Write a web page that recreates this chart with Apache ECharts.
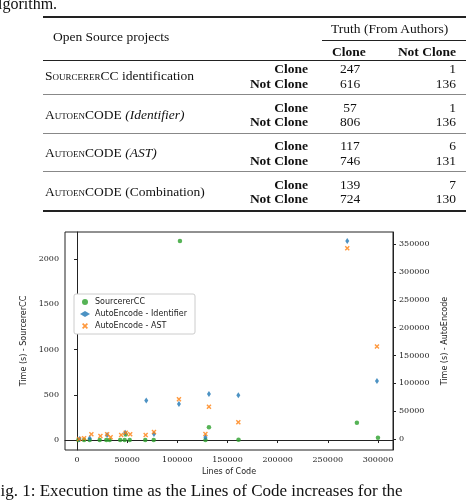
<!DOCTYPE html>
<html><head><meta charset="utf-8">
<script src="https://cdn.jsdelivr.net/npm/echarts@6/dist/echarts.min.js"></script>
<style>
body{margin:0;background:#fff;font-family:"Liberation Serif","DejaVu Serif",serif;color:#111}
#wrap{position:relative;width:474px;height:500px;overflow:hidden}
#chart{position:absolute;left:0;top:0;width:474px;height:500px}
.t{position:absolute;font-size:13.5px;white-space:nowrap;line-height:1}
.b{font-weight:bold}
.r{text-align:right}
.rule{position:absolute;background:#222}
.sc{font-variant:small-caps}
</style></head><body>
<div id="wrap">
<div id="chart"></div>
<div class="t" style="left:-2px;top:-4px;font-size:16px">lgorithm.</div>
<div class="rule" style="left:43px;width:423px;top:16px;height:1.5px"></div>
<div class="t" style="left:53px;top:30px">Open Source projects</div>
<div class="t" style="left:331px;top:22px">Truth (From Authors)</div>
<div class="rule" style="left:322px;width:144px;top:40px;height:0.8px"></div>
<div class="t b" style="left:332px;top:45px">Clone</div>
<div class="t b r" style="left:380px;width:76px;top:45px">Not Clone</div>
<div class="rule" style="left:43px;width:423px;top:60px;height:1px"></div>
<div id="rows"></div>
<div class="rule" style="left:43px;width:423px;top:210px;height:1.5px"></div>
<div class="t" style="left:-9px;top:482px;font-size:17px">Fig. 1: Execution time as the Lines of Code increases for the</div>
</div>
<script>
// table
const tableRows = ['<span class="sc">SourcererCC</span> identification','<span class="sc">AutoenCODE</span> <i>(Identifier)</i>','<span class="sc">AutoenCODE</span> <i>(AST)</i>','<span class="sc">AutoenCODE</span> (Combination)'];
const cloneCol = [[247,616],[57,806],[117,746],[139,724]];
const notCloneCol = [[1,136],[1,136],[6,131],[7,130]];
var html = '';
for (var i = 0; i < 4; i++) {
  var y = 62 + i * 38.5;
  html += '<div class="t" style="left:45px;top:' + (y + 7) + 'px">' + tableRows[i] + '</div>';
  html += '<div class="t b r" style="left:200px;width:108px;top:' + y + 'px">Clone</div>';
  html += '<div class="t b r" style="left:200px;width:108px;top:' + (y + 14.5) + 'px">Not Clone</div>';
  for (var k = 0; k < 2; k++) {
    html += '<div class="t" style="left:330px;width:40px;text-align:center;top:' + (y + 14.5 * k) + 'px">' + cloneCol[i][k] + '</div>';
    html += '<div class="t r" style="left:400px;width:56px;top:' + (y + 14.5 * k) + 'px">' + notCloneCol[i][k] + '</div>';
  }
  if (i < 3) html += '<div class="rule" style="left:43px;width:423px;top:' + (y + 32) + 'px;height:0.6px;background:#888"></div>';
}
document.getElementById('rows').innerHTML = html;

// chart data
const xTicks = [0, 50000, 100000, 150000, 200000, 250000, 300000];
const leftTicks = [0, 500, 1000, 1500, 2000];
const rightTicks = [0, 50000, 100000, 150000, 200000, 250000, 300000, 350000];
const sourcererCC = [[1300,0],[7000,0],[12600,0],[22600,0],[29200,0],[32500,0],[43000,0],[47500,0],[48500,60],[52500,0],[68000,0],[76400,0],[102600,2198],[128000,0],[131500,140],[161000,3],[279000,190],[300000,25]];
const aeIdentifier = [[2500,0],[12600,1200],[30000,7200],[48000,11400],[69000,69000],[76700,9000],[101600,63000],[128000,3000],[131500,81000],[160800,78600],[269400,356000],[299000,104400]];
const aeAST = [[2000,0],[7000,1200],[14300,8400],[23300,5400],[30000,8400],[33500,3000],[44000,7200],[48500,11400],[53000,8400],[68400,7200],[76700,12600],[101600,71400],[128000,9000],[131500,58000],[160800,30000],[269400,343000],[299000,166200]];

const xPath = 'path://M2,0L5,3L8,0L10,2L7,5L10,8L8,10L5,7L2,10L0,8L3,5L0,2Z';
const lab = {color:'#222', fontFamily:'DejaVu Serif', fontSize:8, formatter:function(v){return String(v);}};
function ticks(vals){ return {show:true, length:3, customValues:vals, lineStyle:{color:'#222'}}; }
const line = {show:true, lineStyle:{color:'#222', width:1}};
const nameStyle = {fontFamily:'DejaVu Sans', fontSize:8, color:'#222'};
var myChart = echarts.init(document.getElementById('chart'));
var option = {
  animation: false,
  grid: {left:65, right:81, top:232, bottom:50, show:true, borderColor:'#222', borderWidth:1},
  legend: {
    show: true, left: 74, top: 294, orient: 'vertical', itemGap: 4, itemWidth: 10, itemHeight: 6,
    backgroundColor: '#fff', borderColor: '#ccc', borderWidth: 1, borderRadius: 2, padding: [4, 8, 4, 6],
    textStyle: {fontFamily:'DejaVu Sans', fontSize:8, color:'#222'}
  },
  xAxis: {type:'value', min:-12000, max:315000, name:'Lines of Code', nameLocation:'middle', nameGap:18,
    nameTextStyle:nameStyle, axisLine:line, axisTick:ticks(xTicks), splitLine:{show:false},
    axisLabel:Object.assign({customValues:xTicks, margin:6}, lab)},
  yAxis: [
    {type:'value', min:-110, max:2298, name:'Time (s) - SourcererCC', nameLocation:'middle', nameGap:30,
      nameTextStyle:nameStyle, axisLine:line, axisTick:ticks(leftTicks), splitLine:{show:false},
      axisLabel:Object.assign({customValues:leftTicks, margin:6}, lab)},
    {type:'value', position:'right', min:-19800, max:372000, name:'Time (s) - AutoEncode', nameLocation:'middle', nameGap:42,
      nameTextStyle:nameStyle, axisLine:line, axisTick:ticks(rightTicks), splitLine:{show:false},
      axisLabel:Object.assign({customValues:rightTicks, margin:6}, lab)}
  ],
  series: [
    {name:'SourcererCC', type:'scatter', yAxisIndex:0, data:sourcererCC, symbol:'circle', symbolSize:4.5, itemStyle:{color:'#2ca02c'}},
    {name:'AutoEncode - Identifier', type:'scatter', yAxisIndex:1, data:aeIdentifier, symbol:'diamond', symbolSize:[4,6], itemStyle:{color:'#1f77b4'}},
    {name:'AutoEncode - AST', type:'scatter', yAxisIndex:1, data:aeAST, symbol:xPath, symbolSize:5, itemStyle:{color:'#ff7f0e'}}
  ]
};
myChart.setOption(option);
</script>
</body></html>
